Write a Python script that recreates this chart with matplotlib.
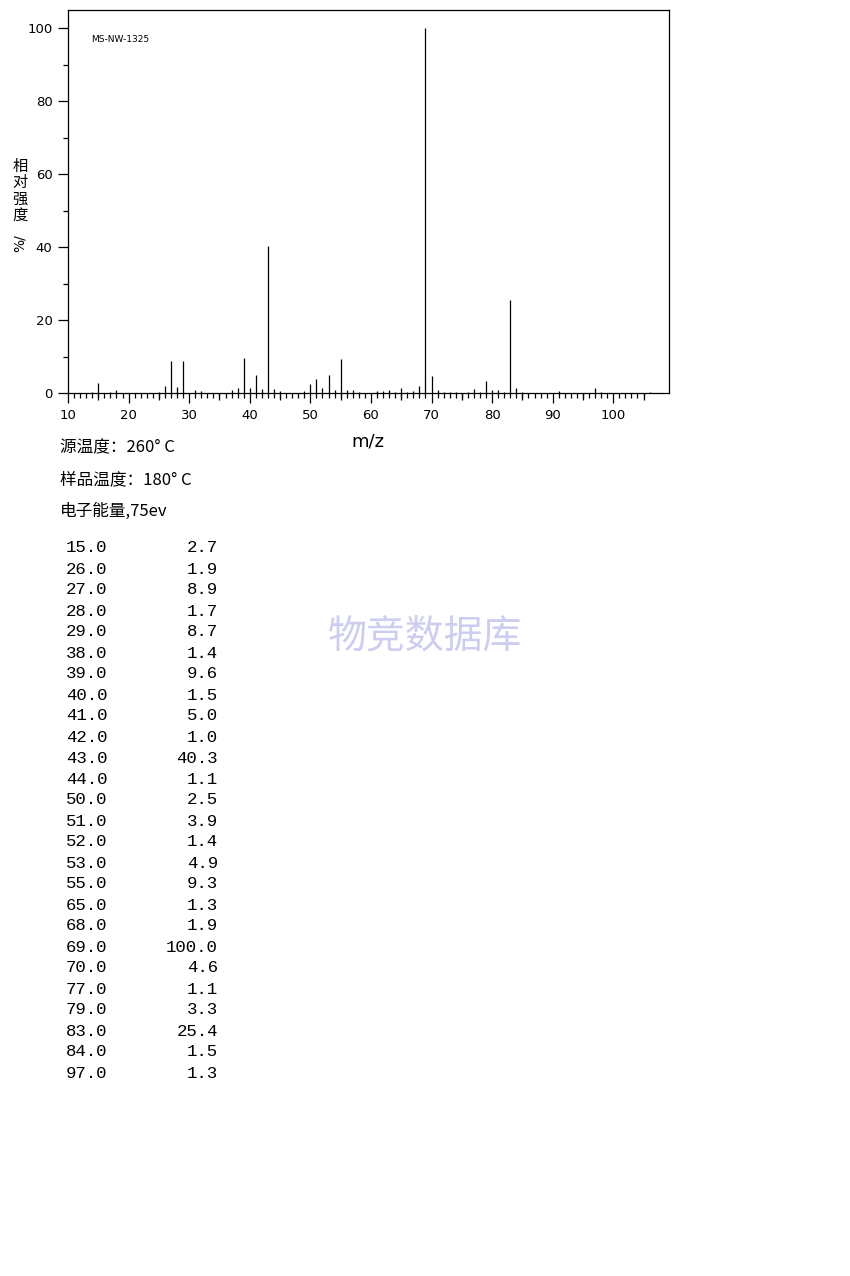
import matplotlib.pyplot as plt
from matplotlib.ticker import FixedLocator, NullFormatter

# peaks listed in the table (m/z, relative intensity %)
table_mz = [15.0, 26.0, 27.0, 28.0, 29.0, 38.0, 39.0, 40.0, 41.0, 42.0,
            43.0, 44.0, 50.0, 51.0, 52.0, 53.0, 55.0, 65.0, 68.0, 69.0,
            70.0, 77.0, 79.0, 83.0, 84.0, 97.0]
table_int = [2.7, 1.9, 8.9, 1.7, 8.7, 1.4, 9.6, 1.5, 5.0, 1.0,
             40.3, 1.1, 2.5, 3.9, 1.4, 4.9, 9.3, 1.3, 1.9, 100.0,
             4.6, 1.1, 3.3, 25.4, 1.5, 1.3]

# small peaks seen only in the spectrum (estimated)
minor_mz = [14, 17, 18, 25, 31, 32, 37, 45, 49, 54, 56, 57, 58, 61, 62, 63,
            64, 66, 67, 71, 72, 73, 74, 76, 78, 80, 81, 82, 85, 91, 98, 106]
minor_int = [0.4, 0.4, 0.9, 0.4, 0.9, 0.6, 0.9, 0.6, 0.6, 0.9, 0.9, 0.9, 0.4,
             0.5, 0.6, 0.8, 0.4, 0.4, 0.6, 0.7, 0.4, 0.4, 0.4, 0.4, 0.4, 0.9,
             0.9, 0.4, 0.4, 0.6, 0.4, 0.3]

info_lines = ["源温度：260° C", "样品温度：180° C", "电子能量,75ev"]

cjk = ["Noto Sans CJK SC", "DejaVu Sans"]

fig = plt.figure(figsize=(8.5, 12.76), dpi=100)
W, H = 850, 1276
ax = fig.add_axes([68 / W, 1 - 393 / H, (669 - 68) / W, (393 - 10) / H])

ax.vlines(table_mz, 0, table_int, colors="black", linewidth=0.9)
ax.vlines(minor_mz, 0, minor_int, colors="black", linewidth=0.9)

ax.set_xlim(10, 109.2)
ax.set_ylim(0, 105)

for s in ax.spines.values():
    s.set_linewidth(0.9)

ax.xaxis.set_major_locator(FixedLocator(range(10, 101, 10)))
ax.xaxis.set_minor_locator(FixedLocator(range(10, 106)))
ax.yaxis.set_major_locator(FixedLocator(range(0, 101, 20)))
ax.yaxis.set_minor_locator(FixedLocator(range(10, 100, 20)))
ax.tick_params(axis="x", which="major", length=7.2, width=0.9, pad=4, labelsize=9.5)
ax.tick_params(axis="x", which="minor", length=3.6, width=0.9)
ax.tick_params(axis="y", which="major", length=7.2, width=0.9, pad=4, labelsize=9.5)
ax.tick_params(axis="y", which="minor", length=3.6, width=0.9)

# medium ticks at the fives
sec = ax.secondary_xaxis("bottom")
sec.xaxis.set_major_locator(FixedLocator(range(15, 106, 10)))
sec.xaxis.set_major_formatter(NullFormatter())
sec.tick_params(length=5.0, width=0.9)
sec.spines["bottom"].set_visible(False)

ax.text(0.038, 0.922, "MS-NW-1325", transform=ax.transAxes, fontsize=6.5,
        va="center", ha="left")

fig.text(368 / W, 1 - 441 / H, "m/z", fontsize=13, ha="center", va="center")

# vertical y label
fig.text(20 / W, 1 - 191 / H, "相\n对\n强\n度", family=cjk, fontsize=11,
         ha="center", va="center", linespacing=0.95)
fig.text(20 / W, 1 - 243 / H, "%/", fontsize=10, rotation=90,
         ha="center", va="center")

for i, line in enumerate(info_lines):
    fig.text(60 / W, 1 - (448 + i * 31.5) / H, line, family=cjk, fontsize=12,
             ha="left", va="center")

for i, (m, v) in enumerate(zip(table_mz, table_int)):
    y = 1 - (548 + i * 21) / H
    fig.text(66 / W, y, f"{m:.1f}", family="Liberation Mono", fontsize=12.5,
             ha="left", va="center")
    fig.text(218 / W, y, f"{v:.1f}", family="Liberation Mono", fontsize=12.5,
             ha="right", va="center")

fig.text(425 / W, 1 - 638 / H, "物竞数据库", family=cjk, fontsize=28,
         color="#cdcdf0", ha="center", va="center")

fig.savefig("out.png", dpi=100)
